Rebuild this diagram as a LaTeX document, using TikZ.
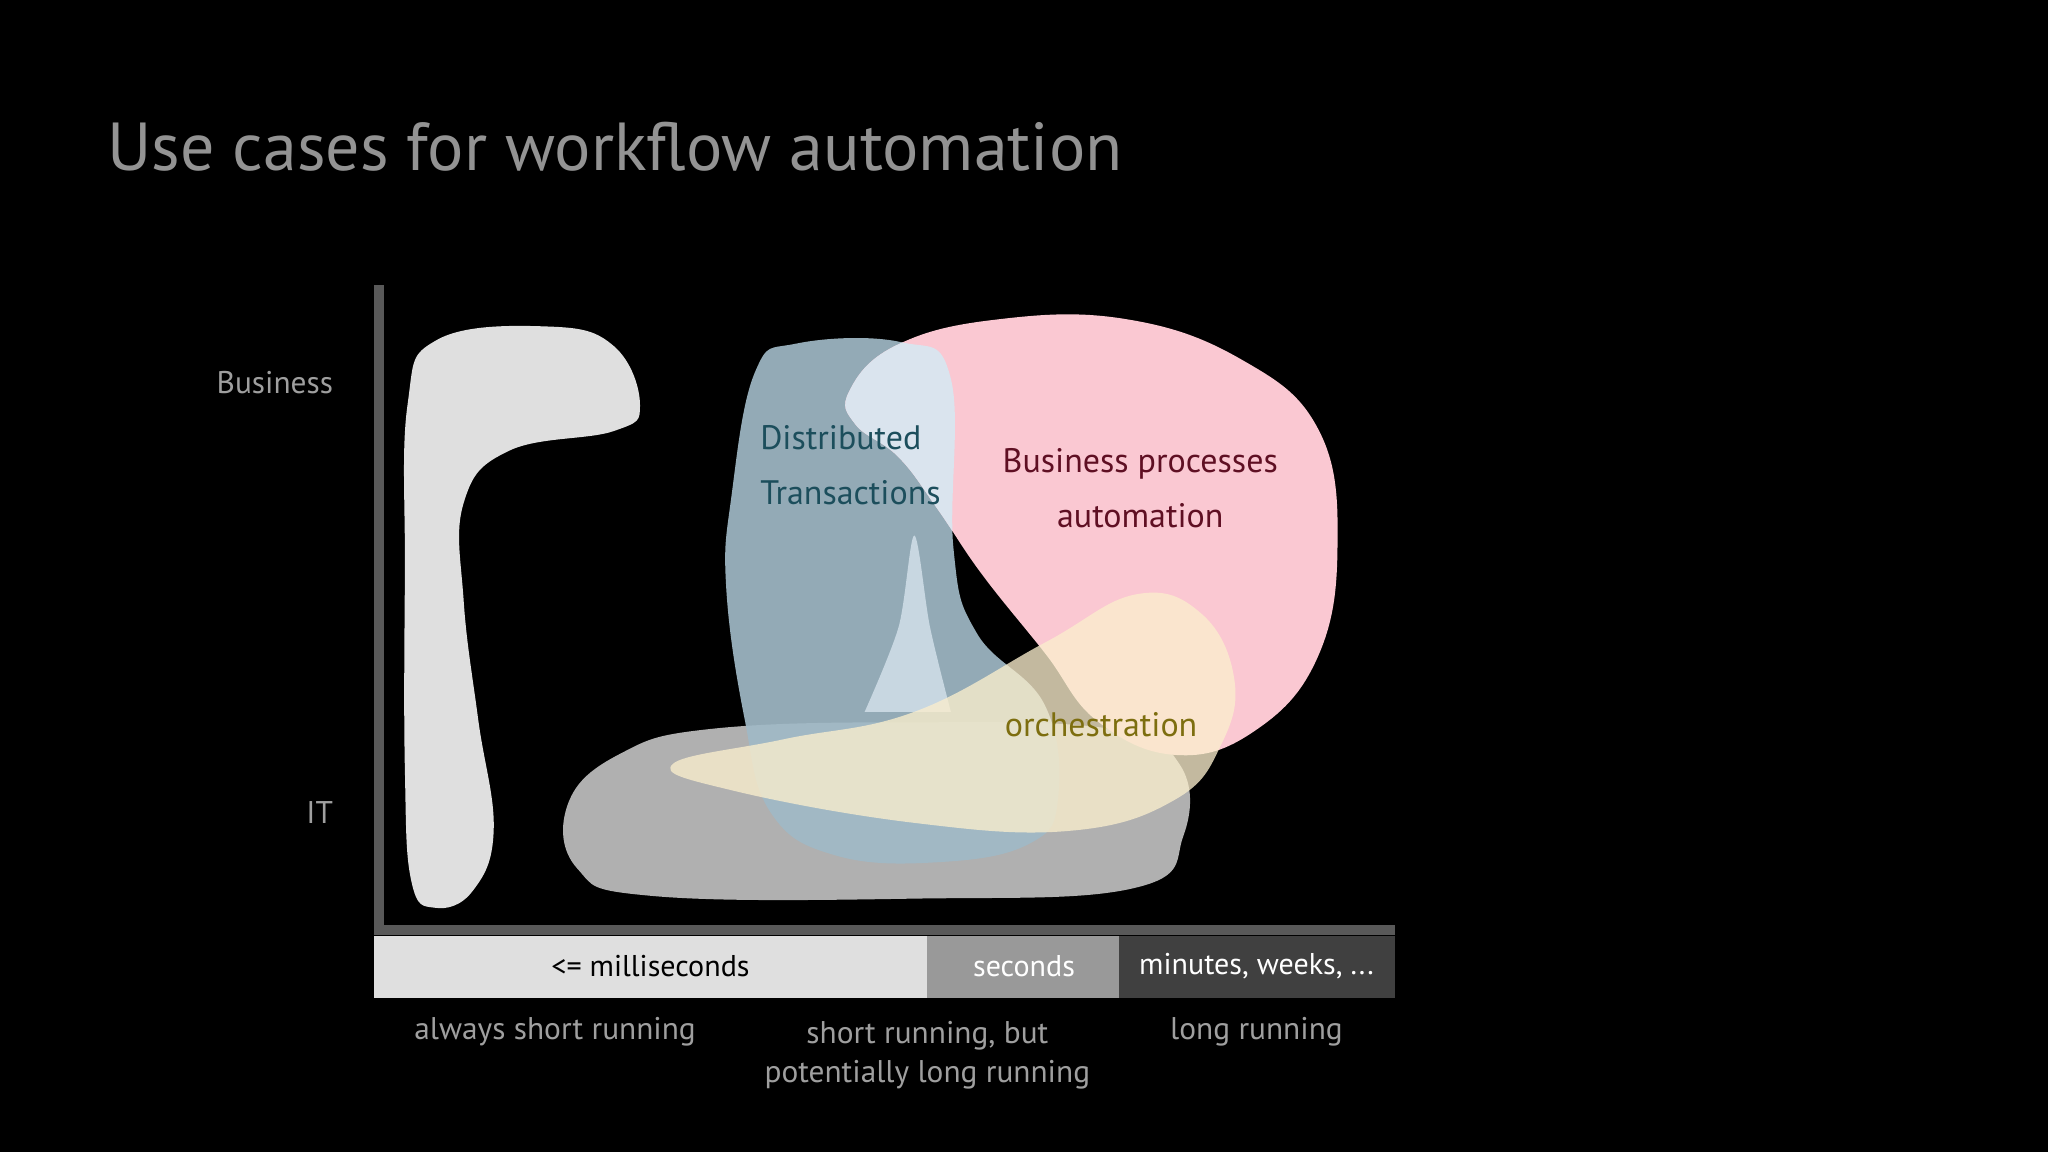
\documentclass[tikz,border=0pt]{standalone}
\usepackage{fontspec}
\setmainfont{PT Sans}
\begin{document}
\begin{tikzpicture}[x=0.5pt,y=-0.5pt,
 lbl/.style={font=\fontsize{12}{15}\selectfont,text=gray!75!white},
 bar/.style={font=\fontsize{11.5}{14}\selectfont,anchor=center},
 blob/.style={smooth cycle,tension=0.7}]
\fill[black] (0,0) rectangle (1568,882);
\useasboundingbox (0,0) rectangle (1568,882);
\node[anchor=west,text=gray!85!white,font=\fontsize{26}{32}\selectfont] (title) at (75,112) {Use cases for workflow automation};
% axes
\fill[gray!70!black] (286,218) rectangle (294,712);
\fill[gray!70!black] (286,708) rectangle (1068,716);
% bars
\fill[gray!25!white] (286,717) rectangle (710,764);
\fill[gray!80!white] (710,717) rectangle (857,764);
\fill[black!75!white] (857,717) rectangle (1068,764);
\node[bar,text=black] (ms) at (498,740) {<= milliseconds};
\node[bar,text=white] (sec) at (784,740) {seconds};
\node[bar,text=white] (min) at (962,740) {minutes, weeks, ...};
\node[lbl] (l1) at (425,790) {always short running};
\node[lbl,align=center] (l2) at (710,808) {short running, but\\potentially long running};
\node[lbl] (l3) at (962,790) {long running};
\node[lbl,anchor=east] (bus) at (262,293) {Business};
\node[lbl,anchor=east] (it) at (262,622) {IT};
% blobs
\fill[gray!25!white] plot[blob] coordinates {(312,310) (335,260) (420,250) (470,265) (490,310) (470,330) (390,345) (355,385) (355,460) (366,550) (378,635) (362,682) (333,695) (315,675) (310,590) (310,440)};
\fill[gray!62!white] plot[blob] coordinates {(435,615) (475,577) (545,558) (700,553) (850,558) (903,585) (906,640) (868,680) (700,688) (500,686) (442,665)};
\def\bluepath{plot[blob] coordinates {(560,380) (578,285) (610,263) (690,262) (728,290) (730,420) (748,485) (800,540) (810,612) (788,646) (720,660) (640,655) (590,622) (570,550) (556,450)}}
\def\pinkpath{plot[blob] coordinates {(650,300) (685,265) (760,245) (860,244) (950,275) (1010,330) (1024,420) (1008,505) (960,560) (900,578) (840,552) (800,500) (752,440) (718,390) (688,350) (655,325)}}
\fill[fill={rgb,255:red,160;green,185;blue,198},opacity=0.92] \bluepath;
\fill[fill={rgb,255:red,200;green,215;blue,225}] plot[smooth] coordinates {(662,545) (688,480) (700,410) (712,480) (728,545)} -- cycle;
\fill[fill={rgb,255:red,250;green,200;blue,210}] \pinkpath;
\begin{scope}
\clip \pinkpath;
\fill[fill={rgb,255:red,218;green,228;blue,238}] \bluepath;
\end{scope}
\fill[fill={rgb,255:red,250;green,238;blue,205},opacity=0.78] plot[blob] coordinates {(515,585) (600,566) (700,545) (800,492) (870,455) (920,470) (945,520) (935,570) (900,612) (820,636) (700,630) (560,605)};
\node[anchor=west,align=left,text={rgb,255:red,28;green,78;blue,92},font=\fontsize{13}{21}\selectfont] (dt) at (575,356) {Distributed\\Transactions};
\node[align=center,text={rgb,255:red,95;green,15;blue,35},font=\fontsize{13}{21}\selectfont] (bpa) at (873,374) {Business processes\\automation};
\node[text={rgb,255:red,125;green,110;blue,15},font=\fontsize{13}{16}\selectfont] (orch) at (843,555) {orchestration};
\end{tikzpicture}
\end{document}
